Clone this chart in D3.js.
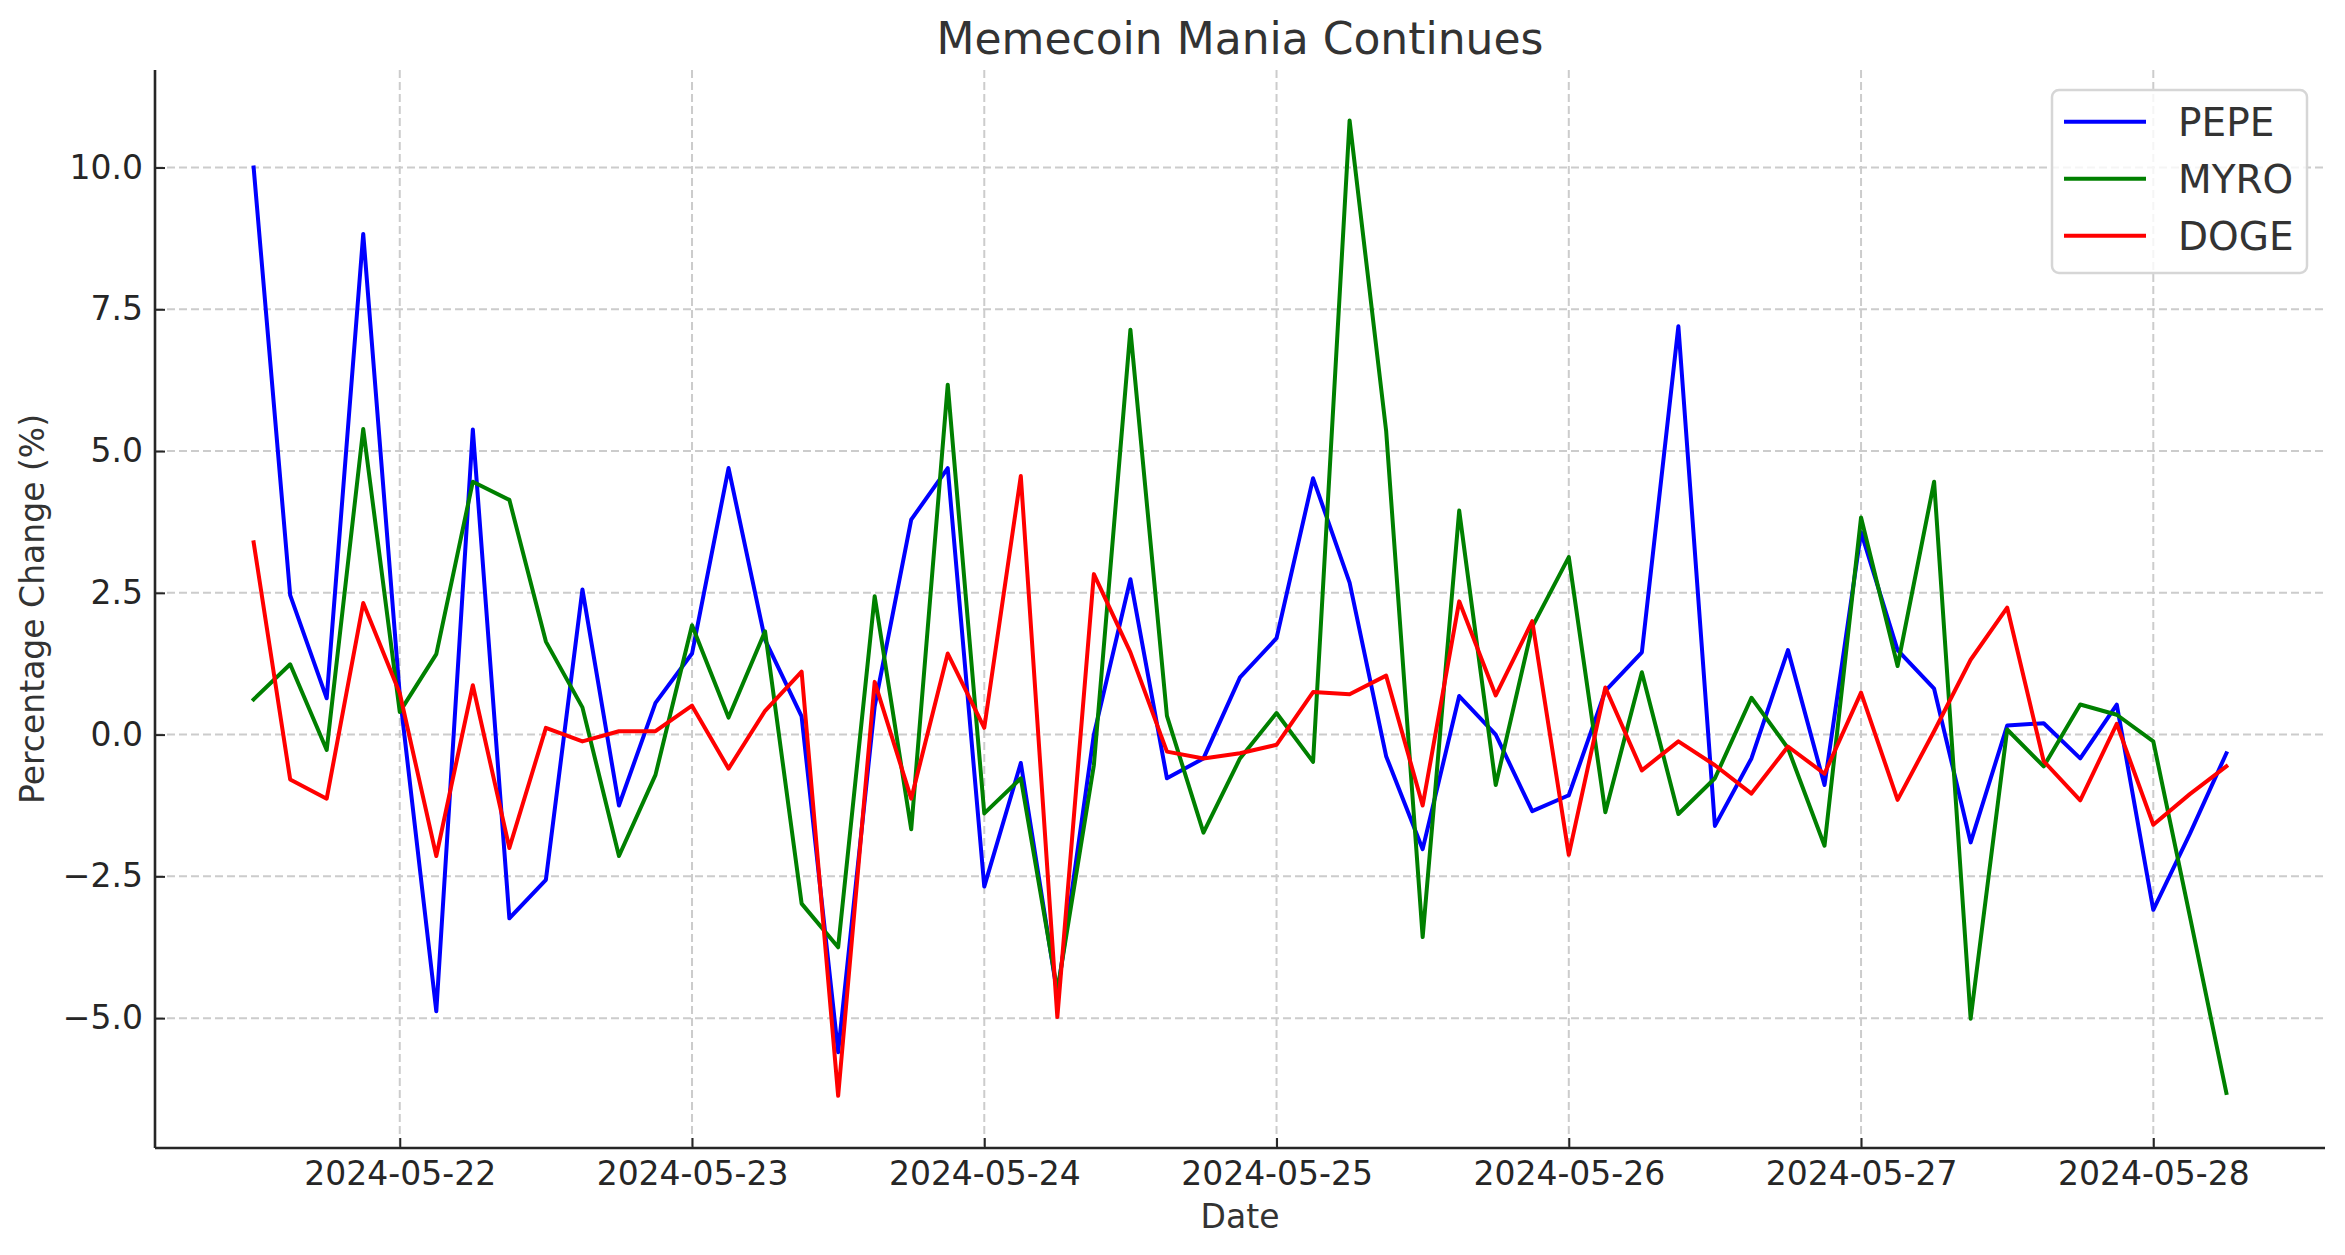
<!DOCTYPE html>
<html>
<head>
<meta charset="utf-8">
<script src="https://d3js.org/d3.v7.min.js"></script>
<style>
  body { margin: 0; background: #fff; }
  text { font-family: "DejaVu Sans", sans-serif; }
</style>
</head>
<body>
<svg id="ch" width="2345" height="1255"></svg>
<script>
// 3-hourly readings, 2024-05-21 12:00 -> 2024-05-28 06:00
var startTime = "2024-05-21T12:00";
var endTime = "2024-05-28T06:00";

var pepe = [10.0, 2.46, 0.64, 8.83, 0.7, -4.88, 5.38, -3.24, -2.56, 2.56,
    -1.25, 0.56, 1.43, 4.70, 1.67, 0.32, -5.6, 0.5, 3.79, 4.70,
    -2.68, -0.5, -4.58, 0.0, 2.74, -0.77, -0.42, 1.01, 1.70, 4.52,
    2.68, -0.38, -2.02, 0.68, 0.0, -1.35, -1.07, 0.77, 1.45, 7.20,
    -1.61, -0.42, 1.49, -0.89, 3.57, 1.49, 0.81, -1.90, 0.16, 0.20,
    -0.42, 0.53, -3.09, -1.75, -0.33];

var myro = [0.62, 1.24, -0.27, 5.39, 0.40, 1.42, 4.46, 4.14, 1.64, 0.48,
    -2.14, -0.71, 1.93, 0.30, 1.82, -2.98, -3.75, 2.44, -1.67, 6.17,
    -1.39, -0.77, -4.52, -0.54, 7.14, 0.33, -1.73, -0.42, 0.38, -0.48,
    10.83, 5.36, -3.57, 3.95, -0.89, 1.90, 3.13, -1.37, 1.10, -1.40,
    -0.77, 0.65, -0.24, -1.96, 3.83, 1.21, 4.46, -5.01, 0.09, -0.56,
    0.53, 0.35, -0.12, -3.2, -6.32];

var doge = [3.39, -0.79, -1.13, 2.32, 0.73, -2.14, 0.87, -2.0, 0.12, -0.12,
    0.06, 0.06, 0.51, -0.60, 0.42, 1.11, -6.37, 0.93, -1.13, 1.43,
    0.12, 4.56, -4.98, 2.83, 1.45, -0.30, -0.42, -0.33, -0.18, 0.75,
    0.71, 1.04, -1.25, 2.35, 0.69, 2.0, -2.12, 0.83, -0.63, -0.12,
    -0.54, -1.04, -0.21, -0.69, 0.74, -1.15, 0.06, 1.32, 2.24, -0.47,
    -1.16, 0.19, -1.59, -1.05, -0.56];

var names = ["PEPE", "MYRO", "DOGE"];
var colors = ["#0000ff", "#008000", "#ff0000"];
var xTickLabels = ["2024-05-22", "2024-05-23", "2024-05-24", "2024-05-25", "2024-05-26", "2024-05-27", "2024-05-28"];
var yTicks = [-5.0, -2.5, 0.0, 2.5, 5.0, 7.5, 10.0];

var parse = d3.utcParse("%Y-%m-%dT%H:%M");
var t0 = parse(startTime), t1 = parse(endTime);
var times = d3.utcHour.every(3).range(t0, d3.utcHour.offset(t1, 1));

var seriesData = [pepe, myro, doge].map(function (vals, k) {
    return {
        name: names[k],
        color: colors[k],
        values: vals.map(function (v, i) { return {t: times[i], v: v}; })
    };
});

var pLeft = 155, pRight = 2325, pTop = 70, pBottom = 1148;
var svg = d3.select("#ch");

// matplotlib style 5% padding on the time axis
var pad = (t1 - t0) * 0.05;
var x = d3.scaleUtc()
    .domain([new Date(+t0 - pad), new Date(+t1 + pad)])
    .range([pLeft, pRight]);
var y = d3.scaleLinear()
    .domain([-7.29, 11.72])
    .range([pBottom, pTop]);

var dayTicks = xTickLabels.map(function (s) { return d3.utcParse("%Y-%m-%d")(s); });

// grid
svg.append("g").selectAll("line")
    .data(dayTicks).enter().append("line")
    .attr("x1", function (d) { return x(d); }).attr("x2", function (d) { return x(d); })
    .attr("y1", pTop).attr("y2", pBottom)
    .attr("stroke", "#cccccc").attr("stroke-width", 2).attr("stroke-dasharray", "8,4");
svg.append("g").selectAll("line")
    .data(yTicks).enter().append("line")
    .attr("x1", pLeft).attr("x2", pRight)
    .attr("y1", function (d) { return y(d); }).attr("y2", function (d) { return y(d); })
    .attr("stroke", "#cccccc").attr("stroke-width", 2).attr("stroke-dasharray", "8,4");

// lines
var line = d3.line()
    .x(function (d) { return x(d.t); })
    .y(function (d) { return y(d.v); });

svg.append("g").selectAll("path")
    .data(seriesData).enter().append("path")
    .attr("d", function (d) { return line(d.values); })
    .attr("fill", "none")
    .attr("stroke", function (d) { return d.color; })
    .attr("stroke-width", 4)
    .attr("stroke-linejoin", "round")
    .attr("stroke-linecap", "square");

// axes (ticks point inward)
var xAxis = d3.axisBottom(x)
    .tickValues(dayTicks)
    .tickFormat(d3.utcFormat("%Y-%m-%d"))
    .tickSizeInner(-10).tickSizeOuter(0).tickPadding(24);
var gx = svg.append("g").attr("transform", "translate(0," + pBottom + ")").call(xAxis);
gx.select(".domain").attr("stroke", "#262626").attr("stroke-width", 2.6)
    .attr("d", "M" + pLeft + ",0H" + pRight);
gx.selectAll(".tick line").attr("stroke", "#262626").attr("stroke-width", 2);
gx.selectAll(".tick text")
    .attr("font-size", 33).attr("fill", "#262626")
    .attr("font-family", "DejaVu Sans").attr("dy", "0.71em").attr("y", 14);

var yAxis = d3.axisLeft(y)
    .tickValues(yTicks)
    .tickFormat(function (d) { return d3.format(".1f")(d).replace("-", "\u2212"); })
    .tickSizeInner(-10).tickSizeOuter(0).tickPadding(12);
var gy = svg.append("g").attr("transform", "translate(" + pLeft + ",0)").call(yAxis);
gy.select(".domain").attr("stroke", "#262626").attr("stroke-width", 2.6)
    .attr("d", "M0," + pTop + "V" + pBottom);
gy.selectAll(".tick line").attr("stroke", "#262626").attr("stroke-width", 2);
gy.selectAll(".tick text")
    .attr("font-size", 33).attr("fill", "#262626")
    .attr("font-family", "DejaVu Sans").attr("x", -12);

// titles
svg.append("text")
    .attr("x", (pLeft + pRight) / 2).attr("y", 54)
    .attr("text-anchor", "middle").attr("font-size", 44).attr("fill", "#333333")
    .text("Memecoin Mania Continues");
svg.append("text")
    .attr("x", (pLeft + pRight) / 2).attr("y", 1228)
    .attr("text-anchor", "middle").attr("font-size", 33).attr("fill", "#333333")
    .text("Date");
svg.append("text")
    .attr("transform", "translate(44," + (pTop + pBottom) / 2 + ") rotate(-90)")
    .attr("text-anchor", "middle").attr("font-size", 33).attr("fill", "#333333")
    .text("Percentage Change (%)");

// legend
var lg = svg.append("g").attr("transform", "translate(2052,90)");
lg.append("rect")
    .attr("width", 255).attr("height", 183).attr("rx", 7)
    .attr("fill", "#ffffff").attr("fill-opacity", 0.8)
    .attr("stroke", "#d6d6d6").attr("stroke-width", 2.5);
var items = lg.selectAll("g.item").data(seriesData).enter().append("g")
    .attr("class", "item")
    .attr("transform", function (d, i) { return "translate(0," + (31.7 + i * 57) + ")"; });
items.append("line")
    .attr("x1", 12).attr("x2", 94)
    .attr("stroke", function (d) { return d.color; }).attr("stroke-width", 4);
items.append("text")
    .attr("x", 126).attr("y", 14)
    .attr("font-size", 39).attr("fill", "#333333")
    .text(function (d) { return d.name; });
</script>
</body>
</html>
